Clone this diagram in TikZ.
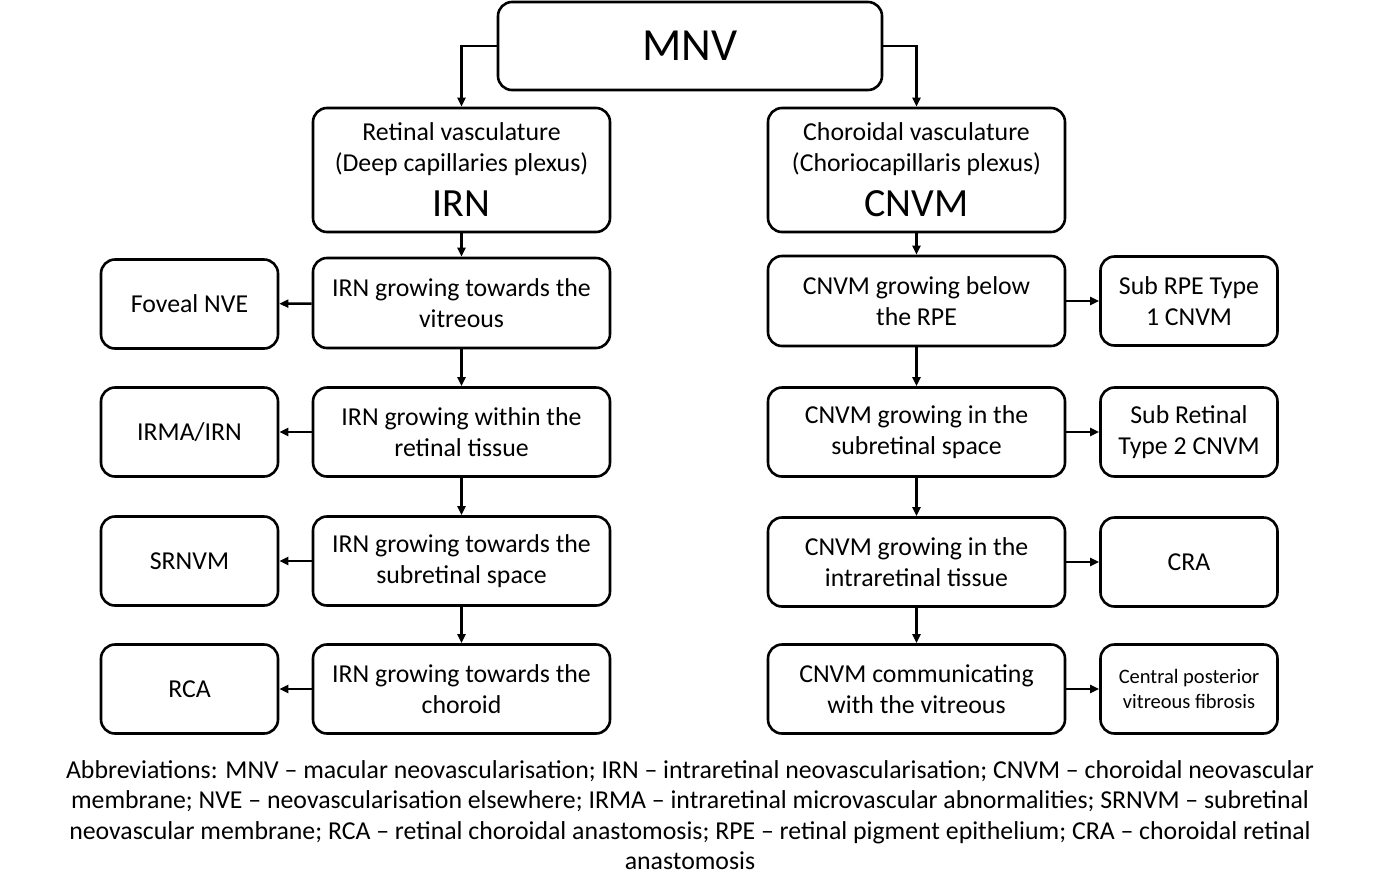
\documentclass[tikz,border=0pt]{standalone}
\usepackage{fontspec}
\setmainfont{Carlito}
\usetikzlibrary{arrows.meta}

\begin{document}
\begin{tikzpicture}[x=1pt,y=-1pt,
    box/.style={draw,line width=2.6pt,rounded corners=14pt,align=center,inner sep=0pt,
      font=\fontsize{25.8}{30.5}\selectfont},
    mainbox/.style={box,minimum width=297pt},
    sidebox/.style={box,minimum width=177pt,minimum height=89pt},
    link/.style={-{Triangle[length=9pt,width=8pt]},line width=2.4pt}]
  \useasboundingbox (0,0) rectangle (1384,895);
  % top
  \node [box,minimum width=384pt,minimum height=88pt,font=\fontsize{46}{46}\selectfont] (mnv) at (690,46) {MNV};
  % heads of the two columns
  \node [mainbox,minimum height=124pt] (ret) at (461.5,170)
    {Retinal vasculature\\(Deep capillaries plexus)\\[15pt]\fontsize{40}{30}\selectfont IRN};
  \node [mainbox,minimum height=124pt] (cho) at (916.5,170)
    {Choroidal vasculature\\(Choriocapillaris plexus)\\[15pt]\fontsize{40}{30}\selectfont CNVM};
  % left column
  \node [mainbox,minimum height=90pt] (irnA) at (461.5,303) {IRN growing towards the\\vitreous};
  \node [mainbox,minimum height=89pt] (irnB) at (461.5,432) {IRN growing within the\\retinal tissue};
  \node [mainbox,minimum height=89pt] (irnC) at (461.5,561) {IRN growing towards the\\subretinal space};
  \node [mainbox,minimum height=89pt] (irnD) at (461.5,689) {IRN growing towards the\\choroid};
  \node [sidebox] (fov) at (189.5,304) {Foveal NVE};
  \node [sidebox] (irma) at (189.5,432) {IRMA/IRN};
  \node [sidebox] (srnvm) at (189.5,561) {SRNVM};
  \node [sidebox] (rca) at (189.5,689) {RCA};
  % right column
  \node [mainbox,minimum height=90pt] (cnvA) at (916.5,301) {CNVM growing below\\the RPE};
  \node [mainbox,minimum height=89pt] (cnvB) at (916.5,432) {CNVM growing in the\\subretinal space};
  \node [mainbox,minimum height=89pt] (cnvC) at (916.5,562) {CNVM growing in the\\intraretinal tissue};
  \node [mainbox,minimum height=89pt] (cnvD) at (916.5,689) {CNVM communicating\\with the vitreous};
  \node [sidebox] (rpe) at (1189,301) {Sub RPE Type\\1 CNVM};
  \node [sidebox] (type2) at (1189,432) {Sub Retinal\\Type 2 CNVM};
  \node [sidebox] (cra) at (1189,562) {CRA};
  \node [sidebox,font=\fontsize{20.5}{25}\selectfont] (fib) at (1189,689) {Central posterior\\vitreous fibrosis};
  % connectors
  \draw [link] (mnv.west) -| (ret.north);
  \draw [link] (mnv.east) -| (cho.north);
  \draw [link] (ret) -- (irnA);
  \draw [link] (irnA) -- (irnB);
  \draw [link] (irnB) -- (irnC);
  \draw [link] (irnC) -- (irnD);
  \draw [link] (cho) -- (cnvA);
  \draw [link] (cnvA) -- (cnvB);
  \draw [link] (cnvB) -- (cnvC);
  \draw [link] (cnvC) -- (cnvD);
  \draw [link] (irnA) -- (fov);
  \draw [link] (irnB) -- (irma);
  \draw [link] (irnC) -- (srnvm);
  \draw [link] (irnD) -- (rca);
  \draw [link] (cnvA) -- (rpe);
  \draw [link] (cnvB) -- (type2);
  \draw [link] (cnvC) -- (cra);
  \draw [link] (cnvD) -- (fib);
  % abbreviations
  \node [align=center,font=\fontsize{25.8}{30.5}\selectfont] (abbr) at (690,815)
    {Abbreviations: MNV – macular neovascularisation; IRN – intraretinal neovascularisation; CNVM – choroidal neovascular\\
     membrane; NVE – neovascularisation elsewhere; IRMA – intraretinal microvascular abnormalities; SRNVM – subretinal\\
     neovascular membrane; RCA – retinal choroidal anastomosis; RPE – retinal pigment epithelium; CRA – choroidal retinal\\
     anastomosis};
\end{tikzpicture}
\end{document}
